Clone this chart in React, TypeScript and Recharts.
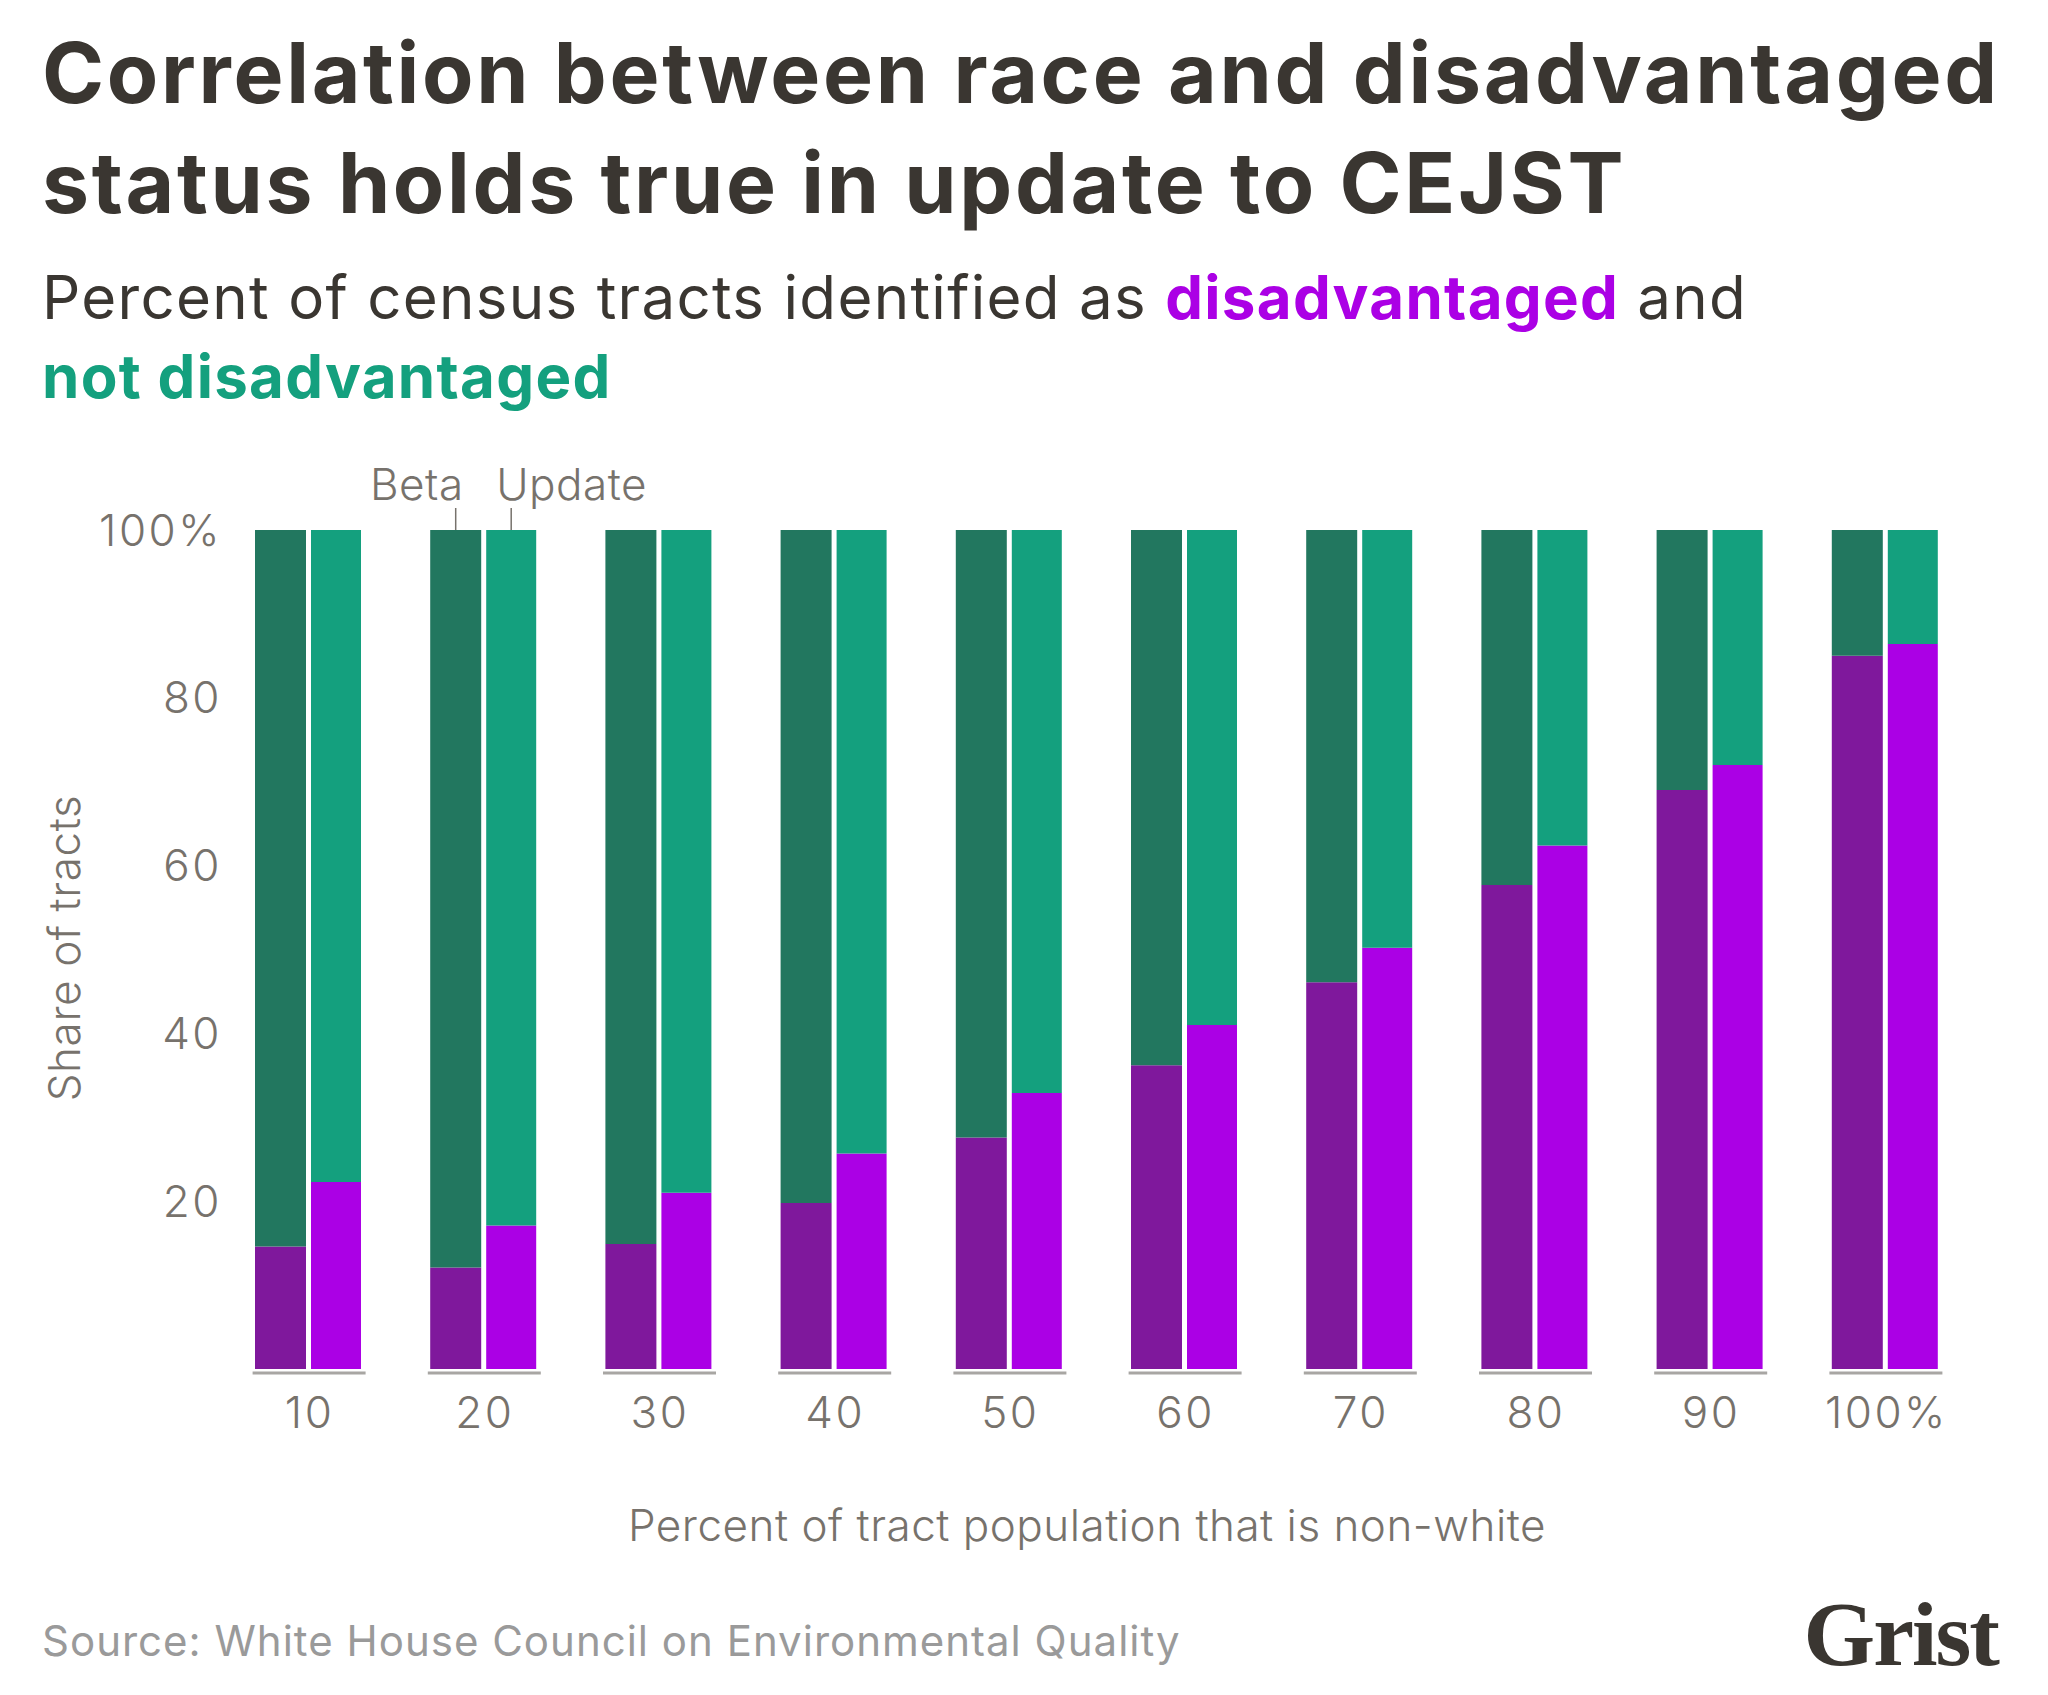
import React from "react";
import { BarChart, Bar, XAxis, YAxis, LabelList } from "recharts";

// Percent of tract population that is non-white (bins)
const bins = ["10", "20", "30", "40", "50", "60", "70", "80", "90", "100%"];

// Share of tracts flagged as disadvantaged, beta tool vs. updated tool
const betaDisadvantaged = [14.6, 12.1, 14.9, 19.8, 27.6, 36.2, 46.1, 57.7, 69.0, 85.0];
const updateDisadvantaged = [22.3, 17.1, 21.0, 25.7, 32.9, 41.0, 50.2, 62.4, 72.0, 86.4];

const yTicks = [20, 40, 60, 80, 100];

const C = {
  ink: "#3a3631",
  grey: "#77726c",
  axisGrey: "#a8a6a3",
  source: "#9a9a9a",
  betaDis: "#7f189c",
  updDis: "#ab00e5",
  betaNot: "#22775f",
  updNot: "#14a07e",
};

const SANS = "Inter, 'Noto Sans', sans-serif";

const data = bins.map((bin, i) => ({
  bin,
  betaDis: betaDisadvantaged[i],
  betaNot: 100 - betaDisadvantaged[i],
  updDis: updateDisadvantaged[i],
  updNot: 100 - updateDisadvantaged[i],
}));

// grey underline plus label under each group
const BinTick = (props: any) => {
  const { x, y, payload } = props;
  return (
    <g>
      <line x1={x - 55} x2={x + 58} y1={y + 4} y2={y + 4} stroke={C.axisGrey} strokeWidth={3} />
      <text
        x={x + 2}
        y={y + 59}
        textAnchor="middle"
        fontFamily={SANS}
        fontWeight={300}
        fontSize={44}
        letterSpacing={2.5}
        fill={C.grey}
      >
        {payload.value}
      </text>
    </g>
  );
};

// "Beta" / "Update" tags with leader lines, only on the second group
const makeTag = (text: string, anchor: "start" | "end", dx: number) => (props: any) => {
  const { x, y, width, index } = props;
  if (index !== 1) return null;
  const cx = Number(x) + Number(width) / 2;
  const top = Number(y);
  return (
    <g>
      <line x1={cx} x2={cx} y1={top - 22} y2={top} stroke={C.grey} strokeWidth={1.5} />
      <text
        x={cx + dx}
        y={top - 30}
        textAnchor={anchor}
        fontFamily={SANS}
        fontWeight={300}
        fontSize={44}
        letterSpacing={0.5}
        fill={C.grey}
      >
        {text}
      </text>
    </g>
  );
};

export default function App() {
  return (
    <div style={{ position: "absolute", left: 0, top: 0, width: 2048, height: 1695, background: "#fff" }}>
      <svg
        width={2048}
        height={1695}
        style={{ position: "absolute", left: 0, top: 0, pointerEvents: "none" }}
      >
        <text x={42} y={103} fontFamily={SANS} fontWeight={700} fontSize={84} fill={C.ink} letterSpacing={2.7}>
          Correlation between race and disadvantaged
        </text>
        <text x={42} y={213} fontFamily={SANS} fontWeight={700} fontSize={84} fill={C.ink} letterSpacing={2.7}>
          status holds true in update to CEJST
        </text>
        <text x={42} y={319} fontFamily={SANS} fontWeight={400} fontSize={60} fill={C.ink} letterSpacing={1.3}>
          Percent of census tracts identified as{" "}
          <tspan fontWeight={700} fill={C.updDis}>disadvantaged</tspan> and
        </text>
        <text x={42} y={398} fontFamily={SANS} fontWeight={700} fontSize={60} fill={C.updNot} letterSpacing={1.3}>
          not disadvantaged
        </text>

        <text
          transform="translate(80, 948) rotate(-90)"
          textAnchor="middle"
          fontFamily={SANS}
          fontWeight={300}
          fontSize={44}
          letterSpacing={0.6}
          fill={C.grey}
        >
          Share of tracts
        </text>
        <text
          x={1087}
          y={1541}
          textAnchor="middle"
          fontFamily={SANS}
          fontWeight={300}
          fontSize={44}
          letterSpacing={0.5}
          fill={C.grey}
        >
          Percent of tract population that is non-white
        </text>

        <text x={42} y={1656} fontFamily={SANS} fontWeight={400} fontSize={42} letterSpacing={1} fill={C.source}>
          Source: White House Council on Environmental Quality
        </text>
        <text
          x={1998}
          y={1665}
          textAnchor="end"
          fontFamily="'Liberation Serif', 'DejaVu Serif', serif"
          fontWeight={700}
          fontSize={92}
          letterSpacing={-2}
          fill={C.ink}
        >
          Grist
        </text>
      </svg>

      <div style={{ position: "absolute", left: 0, top: 0 }}>
        <BarChart
          width={2048}
          height={1695}
          data={data}
          margin={{ top: 530, right: 76, bottom: 226, left: 0 }}
          barGap={5}
        >
          <XAxis
            dataKey="bin"
            axisLine={false}
            tickLine={false}
            tickSize={0}
            tickMargin={0}
            height={100}
            interval={0}
            tick={<BinTick />}
          />
          <YAxis
            type="number"
            domain={[0, 100]}
            ticks={yTicks}
            width={220}
            axisLine={false}
            tickLine={false}
            tickSize={0}
            tickMargin={-2}
            tickFormatter={(v: number) => (v === 100 ? "100%" : String(v))}
            tick={{ fontFamily: SANS, fontWeight: 300, fontSize: 44, fill: C.grey, letterSpacing: 2.5 }}
          />
          <Bar dataKey="betaDis" stackId="beta" fill={C.betaDis} barSize={51} isAnimationActive={false} />
          <Bar dataKey="betaNot" stackId="beta" fill={C.betaNot} barSize={51} isAnimationActive={false}>
            <LabelList dataKey="betaNot" content={makeTag("Beta", "end", 8)} />
          </Bar>
          <Bar dataKey="updDis" stackId="update" fill={C.updDis} barSize={50} isAnimationActive={false} />
          <Bar dataKey="updNot" stackId="update" fill={C.updNot} barSize={50} isAnimationActive={false}>
            <LabelList dataKey="updNot" content={makeTag("Update", "start", -15)} />
          </Bar>
        </BarChart>
      </div>
    </div>
  );
}
